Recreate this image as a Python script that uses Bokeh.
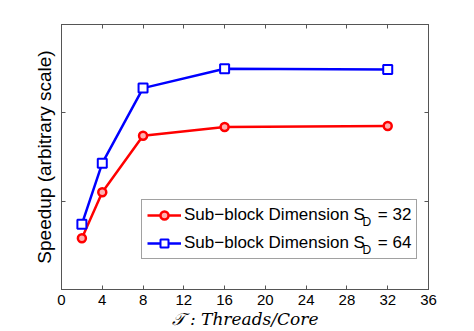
from bokeh.plotting import figure
from bokeh.models import Range1d, FixedTicker, LinearAxis, Legend, LegendItem, Label
from bokeh.embed import file_html
from bokeh.resources import INLINE

# ---- data ----
threads = [2, 4, 8, 16, 32]
speedup_sd32 = [0.58, 1.10, 1.74, 1.84, 1.85]
speedup_sd64 = [0.74, 1.43, 2.28, 2.50, 2.49]
x_ticks = [0, 4, 8, 12, 16, 20, 24, 28, 32, 36]
y_ticks = [0, 1, 2, 3]
label_sd32 = "Sub\u2212block Dimension S\u00a0\u00a0\u2009= 32"
label_sd64 = "Sub\u2212block Dimension S\u00a0\u00a0\u2009= 64"
subscript = "D"

AX = "#555555"

p = figure(width=474, height=331, x_range=Range1d(0, 36), y_range=Range1d(0, 3),
           output_backend="svg", toolbar_location=None,
           min_border_left=61, min_border_right=46, min_border_top=24, min_border_bottom=39,
           background_fill_color="white", border_fill_color="white",
           outline_line_color=AX, outline_line_width=1)
p.xgrid.visible = False
p.ygrid.visible = False


def style(ax):
    ax.major_tick_in = 4
    ax.major_tick_out = 0
    ax.minor_tick_line_color = None
    ax.axis_line_color = AX
    ax.major_tick_line_color = AX
    ax.major_label_text_font = "Liberation Sans"
    ax.major_label_text_color = "black"


xa = p.xaxis[0]
xa.ticker = FixedTicker(ticks=x_ticks)
style(xa)
xa.major_label_text_font_size = "15px"
xa.major_label_standoff = 5
xa.axis_label = "\U0001D4AF : Threads/Core"
xa.axis_label_text_font = "DejaVu Serif"
xa.axis_label_text_font_style = "italic"
xa.axis_label_text_font_size = "17px"
xa.axis_label_text_color = "black"
xa.axis_label_standoff = 1

ya = p.yaxis[0]
ya.ticker = FixedTicker(ticks=y_ticks)
style(ya)
ya.major_label_text_font_size = "0px"
ya.major_label_standoff = 0
ya.axis_label = "Speedup (arbitrary scale)"
ya.axis_label_text_font = "Liberation Sans"
ya.axis_label_text_font_style = "normal"
ya.axis_label_text_font_size = "19px"
ya.axis_label_text_color = "black"
ya.axis_label_standoff = 7

top = LinearAxis(ticker=FixedTicker(ticks=x_ticks), major_label_text_font_size="0px",
                 major_label_standoff=0)
style(top)
p.add_layout(top, "above")
right = LinearAxis(ticker=FixedTicker(ticks=y_ticks), major_label_text_font_size="0px",
                   major_label_standoff=0)
style(right)
p.add_layout(right, "right")

l32 = p.line(threads, speedup_sd32, line_color="#ff0000", line_width=2.5)
m32 = p.scatter(threads, speedup_sd32, marker="circle", size=8, line_color="#ff0000",
                fill_color="#ffb0b0", line_width=2.5)
l64 = p.line(threads, speedup_sd64, line_color="#0000ff", line_width=2.5)
m64 = p.scatter(threads, speedup_sd64, marker="square", size=9, line_color="#0000ff",
                fill_color="white", line_width=2)

legend = Legend(items=[LegendItem(label=label_sd32, renderers=[l32, m32]),
                       LegendItem(label=label_sd64, renderers=[l64, m64])],
                location=(80, 30), label_text_font="Liberation Sans",
                label_text_font_size="17px", label_text_color="black",
                glyph_width=34, glyph_height=20, label_height=20, label_standoff=3,
                padding=5, spacing=8, margin=0,
                border_line_color="#444444", border_line_width=1,
                background_fill_alpha=0)
p.add_layout(legend, "center")

# subscript "D" placed in screen space (relative to the frame) over the legend text gap
for i in range(2):
    p.add_layout(Label(x=301, y=75 - i * 28, x_units="screen", y_units="screen",
                       text=subscript, text_font="Liberation Sans", text_font_size="12px",
                       text_color="black", text_baseline="top"))

open("out.html", "w").write(file_html(p, INLINE))
